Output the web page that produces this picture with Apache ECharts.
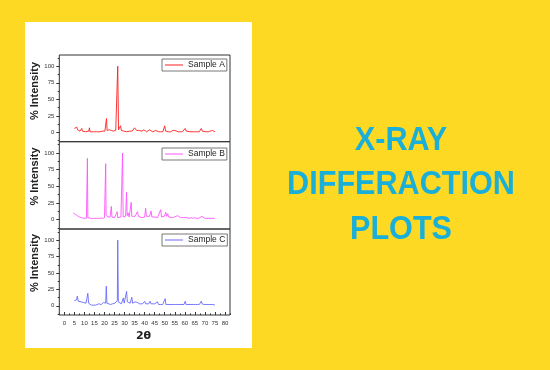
<!DOCTYPE html>
<html>
<head>
<meta charset="utf-8">
<script src="https://cdn.jsdelivr.net/npm/echarts@6/dist/echarts.min.js"></script>
<style>html,body{margin:0;padding:0;background:#fdd923}#c{width:550px;height:370px}</style>
</head>
<body>
<div id="c"></div>
<script>
const sampleNames = ['Sample A', 'Sample B', 'Sample C'];
const xTickLabels = [0,5,10,15,20,25,30,35,40,45,50,55,60,65,70,75,80];
const yTickLabels = [0,25,50,75,100];
const yMinorTicks = [-12.5,12.5,37.5,62.5,87.5,112.5];
const titleLines = ['X-RAY', 'DIFFERACTION', 'PLOTS'];

const sampleA = [[5,6],[5.4,8],[5.8,5],[6.2,8],[6.6,4],[7.2,3],[7.8,2],[8.4,3],[8.7,6],[9,2],[9.8,1],[10.6,1],[11.4,1],[12.2,2],[12.5,7],[12.8,1],[13.6,1],[14.4,1],[15.2,1],[16,1],[16.8,2],[17.6,1],[18.4,2],[19.2,2],[19.8,5],[20.2,2],[20.6,3],[21,21],[21.3,3],[21.8,2],[22.4,4],[22.8,2],[23.4,3],[24,4],[24.4,2],[25,4],[25.6,3],[26.2,4],[26.6,100],[27,4],[27.6,3],[28,10],[28.4,3],[29,2],[29.6,2],[30.3,3],[31,1],[31.8,2],[32.6,2],[33.3,5],[33.8,2],[34.4,3],[35,7],[35.5,4],[36,3],[36.4,6],[37,3],[37.8,2],[38.6,2],[39.6,4],[40.2,1],[41,1],[41.8,1],[42.4,4],[43,1],[44,1],[44.8,1],[45.5,3],[46.2,1],[47,1],[48,1],[49,1],[49.6,2],[50,10],[50.4,2],[51.2,1],[52,1],[53,1],[54,3],[54.6,2],[55,3],[55.8,1],[56.8,1],[57.8,1],[58.8,1],[59.6,2],[60.2,6],[60.7,2],[61.6,1],[62.6,1],[63.5,3],[64.2,1],[65.2,1],[66.2,1],[67.2,1],[67.8,2],[68.2,6],[68.7,2],[69.6,1],[70.6,1],[71.6,1],[72.6,2],[73.2,1],[73.8,3],[74.4,1],[75,1]];

const sampleB = [[4.5,10],[5,9],[5.5,8],[6,7],[6.5,6],[7,5],[7.5,4],[8,3],[8.5,3],[9,2],[10,2],[11,2],[11.3,3],[11.5,92],[11.7,3],[12,2],[13,2],[14,2],[15,2],[16,2],[17,2],[18,2],[19,2],[20,3],[20.4,5],[20.6,84],[20.8,8],[21.2,10],[21.6,4],[22.2,3],[22.8,4],[23.4,20],[23.7,4],[24.4,3],[25,3],[25.6,4],[26.3,12],[26.6,3],[27.4,3],[28.2,4],[28.7,3],[29,100],[29.3,4],[30,3],[30.5,5],[31,41],[31.3,6],[31.8,10],[32.3,4],[32.8,5],[33.3,26],[33.6,5],[34.4,4],[35.2,5],[35.8,8],[36.4,12],[36.9,5],[37.8,3],[38.6,3],[39.4,3],[40,4],[40.5,17],[40.9,5],[41.6,4],[42.4,5],[43.2,13],[43.6,4],[44.5,3],[45.4,4],[46.4,3],[47.2,4],[48,15],[48.4,4],[49,4],[49.8,5],[50.5,11],[50.9,5],[51.5,9],[51.9,4],[52.8,4],[53.8,3],[54.8,4],[55.6,4],[56.5,6],[57,4],[57.8,3],[58.5,4],[59.2,3],[60,3],[61,3],[62,2],[63,3],[64,2],[65,3],[66,2],[67,2],[67.8,3],[68.5,5],[69,3],[70,2],[71,2],[72,2],[73,2],[74,2],[75,2]];

const sampleC = [[5,8],[5.4,6],[5.7,7],[6.1,9],[6.5,15],[6.9,7],[7.4,5],[7.8,5],[8.4,6],[9,9],[9.4,5],[9.8,4],[10.3,3],[10.8,4],[11.3,6],[11.7,19],[12.1,4],[12.8,2],[13.5,1],[14.5,1],[15.5,1],[16.4,2],[17.2,3],[17.8,4],[18.4,2],[19,3],[19.5,5],[20,3],[20.6,4],[20.9,30],[21.2,4],[22,3],[23,2],[24,3],[24.6,5],[25.2,4],[26,6],[26.4,8],[26.6,100],[26.9,6],[27.4,4],[27.8,5],[28.4,3],[29,4],[29.4,12],[29.8,4],[30.4,5],[31,22],[31.4,6],[31.9,5],[32.3,6],[32.8,4],[33.6,13],[34,4],[34.6,5],[35.2,6],[35.8,4],[36.4,5],[37,8],[37.5,3],[38.2,2],[39,3],[40,7],[40.5,3],[41.4,2],[42,3],[42.7,7],[43.2,3],[44,4],[45,3],[45.7,4],[46.4,6],[46.9,2],[48,2],[49,2],[49.8,3],[50.2,11],[50.6,2],[51.6,2],[52.6,2],[53.5,4],[54.2,2],[55.2,2],[56.2,2],[57,3],[57.6,2],[58.6,2],[59.6,2],[60.2,7],[60.6,2],[61.6,2],[62.6,2],[63.5,3],[64.2,2],[65.2,2],[66.2,2],[67.2,2],[67.8,3],[68.2,7],[68.6,3],[69.6,2],[70.6,2],[71.5,4],[72,2],[73,2],[74,2],[75,1]];

const samples = [sampleA, sampleB, sampleC];
const colors = ['#ff1f1f', '#ff55ff', '#6a6aff'];
const gridTops = [55, 141.7, 229];
const gridHeights = [86.7, 87.3, 86];
const legendTops = [59, 148, 234];
const ylabelCenters = [91, 176.5, 263];

const XMIN = -2.5, XMAX = 82.5, YMIN = -14, YMAX = 117;
const AX = '#333';

const grids = [], xAxes = [], yAxes = [], legends = [], series = [];
for (let i = 0; i < 3; i++) {
  grids.push({left: 59.3, width: 170.7, top: gridTops[i], height: gridHeights[i],
    show: true, borderColor: AX, borderWidth: 1, backgroundColor: 'transparent', containLabel: false});
  const isBottom = i === 2;
  xAxes.push({type: 'value', gridIndex: i, position: 'bottom', min: XMIN, max: XMAX,
    axisLine: {show: false, onZero: false}, splitLine: {show: false},
    axisTick: {show: isBottom, inside: true, length: 3, customValues: xTickLabels, lineStyle: {color: AX, width: 1}},
    axisLabel: {show: isBottom, customValues: xTickLabels, fontSize: 6, color: '#333', margin: 5, fontFamily: 'Liberation Sans'}});
  yAxes.push({type: 'value', gridIndex: i, position: 'left', min: YMIN, max: YMAX,
    axisLine: {show: false, onZero: false}, splitLine: {show: false},
    axisTick: {show: true, inside: false, length: 3, customValues: yTickLabels, lineStyle: {color: AX, width: 1}},
    axisLabel: {show: true, customValues: yTickLabels, fontSize: 6, color: '#333', margin: 5, fontFamily: 'Liberation Sans'}});
  legends.push({data: [sampleNames[i]], left: 162, top: legendTops[i], orient: 'horizontal',
    icon: 'rect', itemWidth: 18, itemHeight: 1, itemGap: 0,
    borderColor: '#555', borderWidth: 0.8, padding: [1.5, 2, 1.5, 3], backgroundColor: '#fff',
    textStyle: {fontSize: 8.5, color: '#222', fontFamily: 'Liberation Sans'}, selectedMode: false});
  series.push({name: sampleNames[i], type: 'line', xAxisIndex: i, yAxisIndex: i, data: samples[i],
    showSymbol: false, symbol: 'none', color: colors[i], lineStyle: {color: colors[i], width: 0.9}, animation: false});
}
// minor ticks
for (let i = 0; i < 3; i++) {
  yAxes.push({type: 'value', gridIndex: i, position: 'left', min: YMIN, max: YMAX,
    axisLine: {show: false, onZero: false}, splitLine: {show: false}, axisLabel: {show: false},
    axisTick: {show: true, inside: false, length: 1.6, customValues: yMinorTicks, lineStyle: {color: AX, width: 1}}});
}
xAxes.push({type: 'value', gridIndex: 2, position: 'bottom', min: XMIN, max: XMAX, interval: 2.5,
  axisLine: {show: false, onZero: false}, splitLine: {show: false}, axisLabel: {show: false},
  axisTick: {show: true, inside: true, length: 1.6, lineStyle: {color: AX, width: 1}}});

const graphic = [
  {type: 'rect', z: -10, shape: {x: 25, y: 22, width: 227, height: 326}, style: {fill: '#ffffff'}},
  {type: 'text', x: 143.5, y: 336, style: {text: '2θ', font: 'bold 11px "DejaVu Sans"', fill: '#222', textAlign: 'center', textVerticalAlign: 'middle'}}
];
for (let i = 0; i < 3; i++) {
  graphic.push({type: 'text', x: 34.5, y: ylabelCenters[i], rotation: Math.PI / 2,
    style: {text: '% Intensity', font: 'bold 11px "Liberation Sans"', fill: '#222', textAlign: 'center', textVerticalAlign: 'middle'}});
}
const titleY = [140.3, 185, 229.5];
for (let i = 0; i < 3; i++) {
  graphic.push({type: 'text', x: 401, y: titleY[i], scaleX: 0.9,
    style: {text: titleLines[i], font: 'bold 34px "Liberation Sans"', fill: '#1aafd8', textAlign: 'center', textVerticalAlign: 'middle'}});
}

const chart = echarts.init(document.getElementById('c'), null, {renderer: 'canvas'});
chart.setOption({
  backgroundColor: '#fdd923',
  animation: false,
  graphic: graphic,
  grid: grids,
  xAxis: xAxes,
  yAxis: yAxes,
  legend: legends,
  series: series
});
</script>
</body>
</html>
